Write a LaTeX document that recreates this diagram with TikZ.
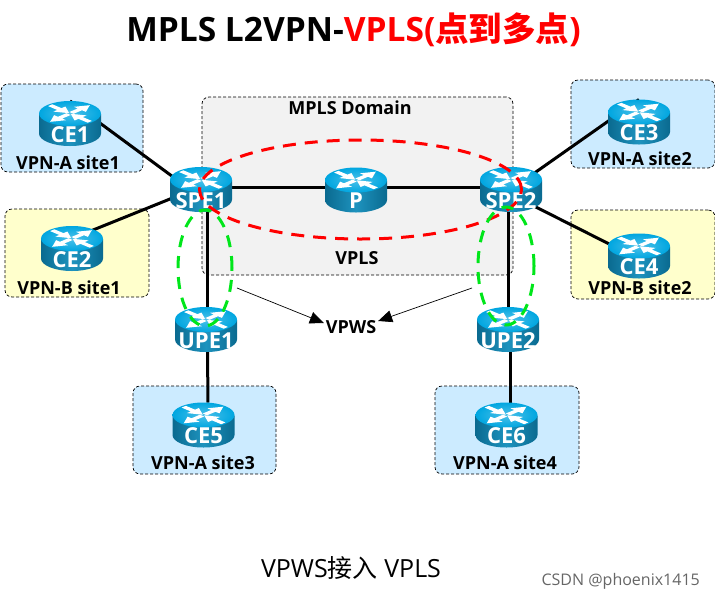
\documentclass[tikz,border=0pt]{standalone}
\usepackage{fontspec}
\setmainfont{Open Sans}
\newfontfamily\cjk{Noto Sans CJK SC}
\usetikzlibrary{shapes.geometric,arrows.meta,calc}
\pgfdeclarelayer{bg}\pgfdeclarelayer{edges}\pgfdeclarelayer{art}\pgfdeclarelayer{top}
\pgfsetlayers{bg,edges,art,main,top}
\definecolor{sitea}{HTML}{CCEBFF}
\definecolor{siteb}{HTML}{FFFFCC}
\definecolor{domainfill}{HTML}{F2F2F2}
\definecolor{rtop}{HTML}{00A6E0}
\definecolor{rbodyd}{HTML}{0A6A90}
\definecolor{rbodym}{HTML}{1E93BE}
\definecolor{dgreen}{HTML}{00E61A}
\newcommand\rarrowout{(2pt,-3pt)--(14pt,-3pt)--(14pt,-8.5pt)--(28pt,0pt)--(14pt,8.5pt)--(14pt,3pt)--(2pt,3pt)--cycle}
\newcommand\rarrowin{(28pt,-3pt)--(15pt,-3pt)--(15pt,-8.5pt)--(1pt,0pt)--(15pt,8.5pt)--(15pt,3pt)--(28pt,3pt)--cycle}
\newcommand\routerat[4]{%
  \node[routerbox] (#1) at (#2,#3) {#4};
  \begin{pgfonlayer}{art}
  \begin{scope}[shift={(#1.center)}]
    \shade[left color=rbodyd,right color=rbodyd,middle color=rbodym]
      (-31pt,9.5pt) -- (-31pt,-10pt) arc[start angle=180,end angle=360,x radius=31pt,y radius=12.5pt]
      -- (31pt,9.5pt) -- cycle;
    \shade[inner color=rtop!70!white,outer color=rtop]
      (0pt,10pt) ellipse[x radius=31pt,y radius=12.5pt];
    \begin{scope}[shift={(0pt,10pt)},yscale=.42]
      \fill[white,rotate=45] \rarrowout;
      \fill[white,rotate=225] \rarrowout;
      \fill[white,rotate=135] \rarrowin;
      \fill[white,rotate=-45] \rarrowin;
    \end{scope}
  \end{scope}
  \end{pgfonlayer}}
\tikzset{
  routerbox/.style={rectangle,minimum width=62pt,minimum height=45pt,inner sep=0pt,outer sep=0pt,
    text height=41pt,text depth=4pt,text=white,font=\fontsize{22}{22}\selectfont\bfseries},
  sitebox/.style={rectangle,draw=black,dash pattern=on 3pt off 2pt,line width=.7pt,rounded corners=7pt,inner sep=0pt,outer sep=0pt},
  sitelabel/.style={font=\fontsize{18}{18}\selectfont\bfseries,text=black,inner sep=0pt},
  link/.style={line width=3pt,draw=black},
  thinarrow/.style={line width=.7pt,draw=black,-{Triangle[length=14pt,width=12pt]}},
  redring/.style={ellipse,draw=red,line width=3pt,dash pattern=on 13pt off 9pt,inner sep=0pt,outer sep=0pt},
  greenring/.style={ellipse,draw=dgreen,line width=3pt,dash pattern=on 12pt off 9pt,inner sep=0pt,outer sep=0pt},
}
\begin{document}
\begin{tikzpicture}[x=1pt,y=-1pt]
\useasboundingbox (0,0) rectangle (715,598);
\begin{pgfonlayer}{bg}
  \node[sitebox,fill=sitea,minimum width=142pt,minimum height=88pt] (sitea1) at (72,128) {};
  \node[sitebox,fill=siteb,minimum width=144pt,minimum height=88pt] (siteb1) at (77,253) {};
  \node[sitebox,fill=domainfill,minimum width=311pt,minimum height=178pt] (domain) at (357.5,186) {};
  \node[sitebox,fill=sitea,minimum width=144pt,minimum height=88pt] (sitea2) at (643,124) {};
  \node[sitebox,fill=siteb,minimum width=144pt,minimum height=89pt] (siteb2) at (643,254.5) {};
  \node[sitebox,fill=sitea,minimum width=143pt,minimum height=88pt] (sitea3) at (204.5,430) {};
  \node[sitebox,fill=sitea,minimum width=144pt,minimum height=88pt] (sitea4) at (507,430) {};
\end{pgfonlayer}

\routerat{ce1}{70}{123.5}{CE1}
\routerat{ce2}{72}{248.5}{CE2}
\routerat{ce3}{639}{122}{CE3}
\routerat{ce4}{639}{256}{CE4}
\routerat{ce5}{203.5}{425}{CE5}
\routerat{ce6}{506.5}{425}{CE6}
\routerat{spe1}{201}{189.5}{SPE1}
\routerat{spe2}{511}{189.5}{SPE2}
\routerat{pr}{356}{190}{P}
\routerat{upe1}{206}{329.5}{UPE1}
\routerat{upe2}{508}{329.5}{UPE2}

\node[sitelabel] (la1) at (68,163) {VPN-A site1};
\node[sitelabel] (lb1) at (69,288) {VPN-B site1};
\node[sitelabel] (la2) at (640,159) {VPN-A site2};
\node[sitelabel] (lb2) at (640,288) {VPN-B site2};
\node[sitelabel] (la3) at (203,463) {VPN-A site3};
\node[sitelabel] (la4) at (505,463) {VPN-A site4};
\node[sitelabel] (ldom) at (350,108) {MPLS Domain};
\node[sitelabel] (lvpls) at (357,258) {VPLS};
\node[sitelabel,outer sep=2pt] (vpws) at (351,327) {VPWS};

\node[font=\fontsize{33.5}{36}\selectfont\bfseries,inner sep=0pt] (title) at (353.5,30)
  {MPLS L2VPN-\textcolor{red}{VPLS({\cjk 点到多点})}};
\node[font=\fontsize{25}{28}\selectfont,inner sep=0pt] (subtitle) at (351,568) {VPWS{\cjk 接入} VPLS};
\node[font=\fontsize{16}{17}\selectfont,text=black!60,inner sep=0pt,anchor=east] (mark) at (700,581) {CSDN @phoenix1415};

\coordinate (fromleft) at (237,288);
\coordinate (fromright) at (472,288);

\begin{pgfonlayer}{edges}
  \draw[link] (ce1.north) -- ([yshift=-8pt]spe1.center);
  \draw[link] ([yshift=10pt]ce2.center) -- ([yshift=3pt]spe1.center);
  \draw[link] (ce3.north) -- (spe2.center);
  \draw[link] ([yshift=-3pt]ce4.center) -- ([yshift=-5pt]spe2.center);
  \draw[link] ([yshift=2.5pt]spe1.center) -- ([yshift=3pt]pr.center);
  \draw[link] ([yshift=3pt]pr.center) -- ([yshift=2.5pt]spe2.center);
  \draw[link] ([xshift=6pt]spe1.south) -- ([xshift=1pt]upe1.north);
  \draw[link] ([xshift=-3pt]spe2.south) -- (upe2.north);
  \draw[link] ([xshift=1.5pt]upe1.south) -- ([xshift=4.5pt]ce5.north);
  \draw[link] ([xshift=2pt]upe2.south) -- ([xshift=3.5pt]ce6.north);
\end{pgfonlayer}

\draw[thinarrow] (fromleft) -- ([yshift=4pt]vpws.west);
\draw[thinarrow] (fromright) -- ([yshift=6pt]vpws.east);

\begin{pgfonlayer}{top}
  \node[redring,minimum width=322pt,minimum height=99pt] (vplsring) at (360.5,189.5) {};
  \node[greenring,minimum width=54pt,minimum height=116pt] (vpwsleft) at (205,268) {};
  \node[greenring,minimum width=56pt,minimum height=118pt] (vpwsright) at (506,266) {};
\end{pgfonlayer}
\end{tikzpicture}
\end{document}
